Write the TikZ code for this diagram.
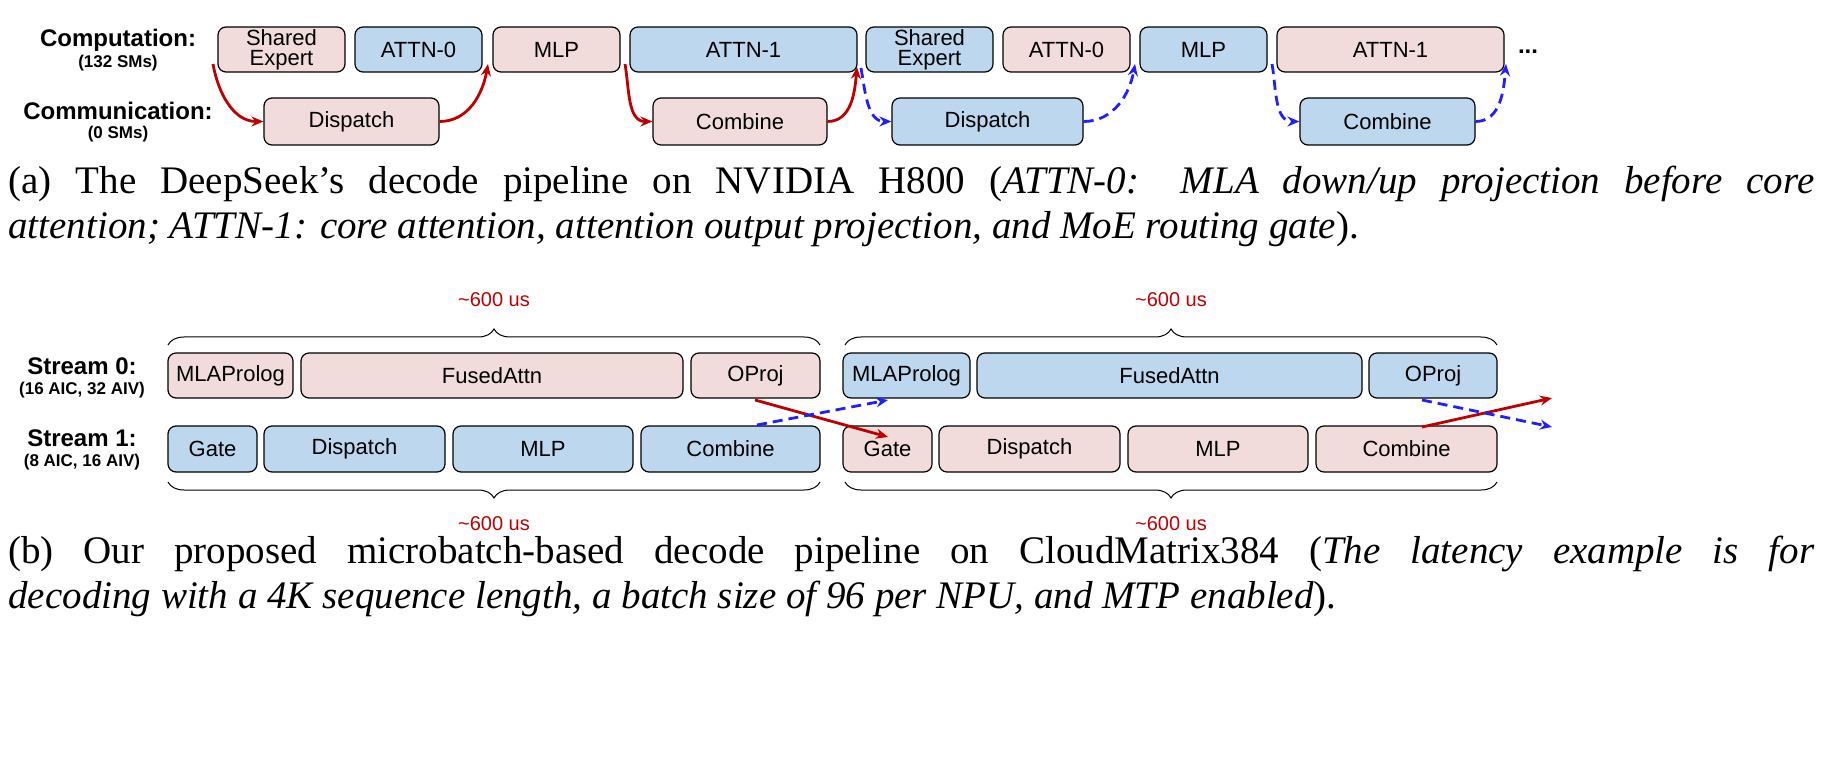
\documentclass[tikz,border=0pt]{standalone}
\usepackage{fontspec}
\setmainfont{Liberation Serif}
\newfontfamily\sansf{Liberation Sans}
\usetikzlibrary{arrows.meta,decorations.pathreplacing}
\definecolor{pk}{HTML}{F2DCDB}
\definecolor{bl}{HTML}{BDD7EE}
\definecolor{dred}{HTML}{C00000}
\definecolor{ablue}{HTML}{1F1FFF}
\tikzset{
 bx/.style={draw=black,line width=0.6pt,rounded corners=4pt,inner sep=0pt,align=center,font=\sansf\fontsize{11}{12}\selectfont},
 lab/.style={font=\sansf\bfseries\fontsize{12}{13}\selectfont},
 sub/.style={font=\sansf\bfseries\fontsize{8.5}{10}\selectfont},
 ra/.style={draw=dred,line width=1.4pt,-{Stealth[length=6pt,width=5pt]}},
 ba/.style={draw=ablue,line width=1.4pt,dashed,dash pattern=on 5pt off 3pt,-{Stealth[length=6pt,width=5pt]}},
 brc/.style={draw=black,line width=0.5pt,decorate,decoration={brace,amplitude=8pt}},
 lat/.style={text=dred,font=\sansf\fontsize{10}{12}\selectfont},
 captxt/.style={anchor=north west,inner sep=0pt,text width=903pt,align=justify,font=\fontsize{19.5}{22.5}\selectfont}
}
\newcommand{\bxx}[7]{\node[bx,fill=#6,minimum width={(#3-#2)*0.5pt},minimum height={(#5-#4)*0.5pt}] (#1) at ({(#2+#3)/2},{(#4+#5)/2}) {#7};}
\begin{document}
\begin{tikzpicture}[x=0.5pt,y=-0.5pt]
\useasboundingbox (0,0) rectangle (1824,764);
% (a)
\node[lab] (l1) at (118,40) {Computation:};
\node[sub] (l2) at (118,63) {(132 SMs)};
\node[lab] (l3) at (118,111) {Communication:};
\node[sub] (l4) at (118,134) {(0 SMs)};
\bxx{a1}{218}{345}{27}{72}{pk}{Shared\\[-2pt]Expert}
\bxx{a2}{355}{482}{27}{72}{bl}{ATTN-0}
\bxx{a3}{493}{620}{27}{72}{pk}{MLP}
\bxx{a4}{630}{857}{27}{72}{bl}{ATTN-1}
\bxx{a5}{866}{993}{27}{72}{bl}{Shared\\[-2pt]Expert}
\bxx{a6}{1003}{1130}{27}{72}{pk}{ATTN-0}
\bxx{a7}{1140}{1267}{27}{72}{bl}{MLP}
\bxx{a8}{1277}{1504}{27}{72}{pk}{ATTN-1}
\node[font=\sansf\bfseries\fontsize{12}{12}\selectfont] (dots) at (1528,52) {...};
\bxx{c1}{264}{439}{98}{145}{pk}{Dispatch}
\bxx{c2}{653}{827}{98}{145}{pk}{Combine}
\bxx{c3}{892}{1083}{98}{145}{bl}{Dispatch}
\bxx{c4}{1300}{1475}{98}{145}{bl}{Combine}
\coordinate (p1) at (213,64); \coordinate (q1) at (488,64);
\coordinate (p2) at (625,64); \coordinate (q2) at (857,67);
\coordinate (p3) at (861,68); \coordinate (q3) at (1135,64);
\coordinate (p4) at (1272,64); \coordinate (q4) at (1506,64);
\draw[ra] (p1) to[out=-80,in=180] (c1.west);
\draw[ra] (c1.east) to[out=0,in=-100] (q1);
\draw[ra] (p2) to[out=-80,in=180] (c2.west);
\draw[ra] (c2.east) to[out=0,in=-95] (q2);
\draw[ba] (p3) to[out=-80,in=180] (c3.west);
\draw[ba] (c3.east) to[out=0,in=-100] (q3);
\draw[ba] (p4) to[out=-80,in=180] (c4.west);
\draw[ba] (c4.east) to[out=0,in=-95] (q4);
\node[captxt] (capa) at (8,166) {(a) The DeepSeek's decode pipeline on NVIDIA H800 (\textit{ATTN-0: MLA down/up projection before core\linebreak attention; ATTN-1: core attention, attention output projection, and MoE routing gate}).};
% (b)
\node[lab] (s0) at (82,366) {Stream 0:};
\node[sub] (s0s) at (82,390) {(16 AIC, 32 AIV)};
\node[lab] (s1) at (82,438) {Stream 1:};
\node[sub] (s1s) at (82,462) {(8 AIC, 16 AIV)};
\bxx{m1}{168}{293}{353}{398}{pk}{MLAProlog}
\bxx{m2}{301}{683}{353}{398}{pk}{FusedAttn}
\bxx{m3}{691}{820}{353}{398}{pk}{OProj}
\bxx{m4}{843}{970}{353}{398}{bl}{MLAProlog}
\bxx{m5}{977}{1362}{353}{398}{bl}{FusedAttn}
\bxx{m6}{1369}{1497}{353}{398}{bl}{OProj}
\bxx{n1}{168}{257}{426}{472}{bl}{Gate}
\bxx{n2}{264}{445}{426}{472}{bl}{Dispatch}
\bxx{n3}{453}{633}{426}{472}{bl}{MLP}
\bxx{n4}{641}{820}{426}{472}{bl}{Combine}
\bxx{n5}{843}{932}{426}{472}{pk}{Gate}
\bxx{n6}{939}{1120}{426}{472}{pk}{Dispatch}
\bxx{n7}{1128}{1308}{426}{472}{pk}{MLP}
\bxx{n8}{1316}{1497}{426}{472}{pk}{Combine}
\draw[brc] (168,345) -- (820,345);
\draw[brc] (845,345) -- (1497,345);
\draw[brc] (820,482) -- (168,482);
\draw[brc] (1497,482) -- (845,482);
\node[lat] (t1) at (494,300) {\textasciitilde600 us};
\node[lat] (t2) at (1171,300) {\textasciitilde600 us};
\node[lat] (t3) at (494,524) {\textasciitilde600 us};
\node[lat] (t4) at (1171,524) {\textasciitilde600 us};
\coordinate (r1) at (755,400); \coordinate (r2) at (888,437);
\coordinate (b1) at (757,425); \coordinate (b2) at (888,400);
\coordinate (r3) at (1422,427); \coordinate (r4) at (1552,398);
\coordinate (b3) at (1422,400); \coordinate (b4) at (1552,427);
\draw[ra] (r1) -- (r2);
\draw[ba] (b1) -- (b2);
\draw[ra] (r3) -- (r4);
\draw[ba] (b3) -- (b4);
\node[captxt] (capb) at (8,536) {(b) Our proposed microbatch-based decode pipeline on CloudMatrix384 (\textit{The latency example is for\linebreak decoding with a 4K sequence length, a batch size of 96 per NPU, and MTP enabled}).};
\end{tikzpicture}
\end{document}
